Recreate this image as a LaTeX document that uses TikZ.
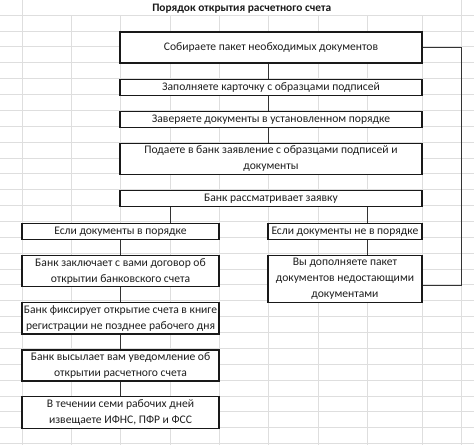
\documentclass[tikz,border=0pt]{standalone}
\usepackage{fontspec}
\setmainfont{Carlito}
\begin{document}
\begin{tikzpicture}[x=1pt,y=-1pt,
  gridline/.style={draw=black!13,line width=0.6pt},
  box/.style={draw=black!90,line width=1.3pt,fill=white,rectangle,inner sep=0pt,align=center,
    text=black!88,font=\fontsize{11.6}{16}\selectfont},
  conn/.style={draw=black!80,line width=0.8pt}]
\useasboundingbox (0,0) rectangle (474,445);
% spreadsheet grid
\foreach \k in {0,...,27}{\draw[gridline] (0,{15+\k*15.87}) -- (474,{15+\k*15.87});}
\foreach \gx in {71.7,120.5,170,219.3,268.5,318,367.3,422}{\draw[gridline] (\gx,15) -- (\gx,445);}
\foreach \gx in {22,461.7}{\draw[gridline] (\gx,0) -- (\gx,445);}
% title
\node[text=black!90] (title) at (241.7,8.5) {\fontsize{11.4}{14}\selectfont\bfseries Порядок открытия расчетного счета};
% boxes
\node[box,minimum width=302pt,minimum height=31pt] (b1) at (271,47.5) {Собираете пакет необходимых документов};
\node[box,minimum width=302pt,minimum height=16.4pt] (b2) at (271,87.5) {Заполняете карточку с образцами подписей};
\node[box,minimum width=302pt,minimum height=16pt] (b3) at (271,119.7) {Заверяете документы в установленном порядке};
\node[box,minimum width=302pt,minimum height=31pt] (b4) at (271,158.8) {Подаете в банк заявление с образцами подписей и\\документы};
\node[box,minimum width=302pt,minimum height=16pt] (b5) at (271,198.7) {Банк рассматривает заявку};
\node[box,minimum width=197pt,minimum height=16pt] (l6) at (120.5,231.3) {Если документы в порядке};
\node[box,minimum width=154pt,minimum height=16pt] (r6) at (345,231.3) {Если документы не в порядке};
\node[box,minimum width=197pt,minimum height=31pt] (l7) at (120.5,271.2) {Банк заключает с вами договор об\\открытии банковского счета};
\node[box,minimum width=154pt,minimum height=47pt] (r7) at (345,279.2) {Вы дополняете пакет\\документов недостающими\\документами};
\node[box,minimum width=197pt,minimum height=31.3pt] (l8) at (120.5,318.3) {Банк фиксирует открытие счета в книге\\регистрации не позднее рабочего дня};
\node[box,minimum width=197pt,minimum height=31pt] (l9) at (120.5,365.5) {Банк высылает вам уведомление об\\открытии расчетного счета};
\node[box,minimum width=197pt,minimum height=31.6pt] (l10) at (120.5,412.5) {В течении семи рабочих дней\\извещаете ИФНС, ПФР и ФСС};
% connectors
\coordinate (cM) at (268.7,0);
\coordinate (cL) at (170,0);
\coordinate (cR) at (367.3,0);
\coordinate (loop) at (461.7,0);
\draw[conn] (b1.south -| cM) -- (b2.north -| cM);
\draw[conn] (b2.south -| cM) -- (b3.north -| cM);
\draw[conn] (b3.south -| cM) -- (b4.north -| cM);
\draw[conn] (b5.south -| cL) -- (l6.north -| cL);
\draw[conn] (b5.south -| cR) -- (r6.north -| cR);
\draw[conn] (l6.south) -- (l7.north);
\draw[conn] (r6.south -| cR) -- (r7.north -| cR);
\draw[conn] (l7.south) -- (l8.north);
\draw[conn] (l8.south) -- (l9.north);
\draw[conn] (l9.south) -- (l10.north);
\draw[conn] (b1.east) -| ([yshift=-6.5pt]r7.east -| loop) -- ([yshift=-6.5pt]r7.east);
\end{tikzpicture}
\end{document}
